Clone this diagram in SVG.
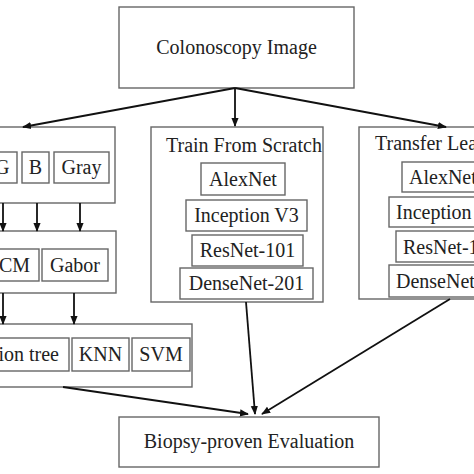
<svg xmlns="http://www.w3.org/2000/svg" width="474" height="474" viewBox="0 0 474 474">
<defs>
<marker id="ah" viewBox="0 0 10 10" refX="9" refY="5" markerWidth="5" markerHeight="5" orient="auto" markerUnits="strokeWidth">
<path d="M0,1 L10,5 L0,9 z" fill="#111"/>
</marker>
<style>
rect{fill:#fff;stroke:#666;stroke-width:1.4}
text{font-family:"Liberation Serif","Times New Roman",serif;font-size:20px;fill:#222}
.c{text-anchor:middle}
.e{text-anchor:end}
#connectors line{stroke:#111;stroke-width:1.8;marker-end:url(#ah)}
</style>
</defs>
<rect x="0" y="0" width="474" height="474" style="fill:#fff;stroke:none"/>
<g id="colonoscopy"><rect x="119" y="7" width="235" height="81"/><text x="236.5" y="54" class="c">Colonoscopy Image</text></g>
<g id="color-channels"><rect x="-10" y="127" width="125" height="76"/>
<rect x="-12" y="152" width="29" height="31"/><text x="9.5" y="174" class="e">G</text>
<rect x="22" y="152" width="27" height="31"/><text x="35.5" y="174" class="c">B</text>
<rect x="54" y="152" width="55" height="31"/><text x="81.5" y="174" class="c">Gray</text></g>
<g id="features"><rect x="-10" y="231" width="126" height="62"/>
<rect x="-12" y="249" width="51" height="32"/><text x="30" y="272" class="e">CM</text>
<rect x="42" y="249" width="66" height="32"/><text x="75" y="272" class="c">Gabor</text></g>
<g id="classifiers"><rect x="-10" y="324" width="202" height="63"/>
<rect x="-12" y="338" width="81" height="33"/><text x="59" y="361" class="e">ion tree</text>
<rect x="72" y="338" width="57" height="33"/><text x="100.5" y="361" class="c">KNN</text>
<rect x="132" y="338" width="58" height="33"/><text x="161" y="361" class="c">SVM</text></g>
<g id="train-scratch"><rect x="151" y="127" width="172" height="175"/>
<text x="166" y="152">Train From Scratch</text>
<rect x="201" y="163" width="84" height="32"/><text x="243" y="186" class="c">AlexNet</text>
<rect x="186" y="200" width="121" height="31"/><text x="246.5" y="222" class="c">Inception V3</text>
<rect x="192" y="235" width="111" height="31"/><text x="247.5" y="257" class="c">ResNet-101</text>
<rect x="180" y="268" width="133" height="31"/><text x="246.5" y="290" class="c">DenseNet-201</text></g>
<g id="transfer-learning"><rect x="359" y="127" width="130" height="172"/>
<text x="375" y="150">Transfer Lea</text>
<rect x="402" y="162" width="90" height="30"/><text x="409" y="184">AlexNet</text>
<rect x="389" y="197" width="100" height="30"/><text x="396" y="219">Inception</text>
<rect x="396" y="231" width="100" height="31"/><text x="403" y="254">ResNet-1</text>
<rect x="389" y="265" width="100" height="32"/><text x="396" y="288">DenseNet</text></g>
<g id="evaluation"><rect x="119" y="417" width="260" height="50"/><text x="249" y="448" class="c">Biopsy-proven Evaluation</text></g>
<g id="connectors">
<line x1="235" y1="88" x2="23" y2="127"/>
<line x1="235" y1="88" x2="235" y2="126"/>
<line x1="235" y1="88" x2="446" y2="127"/>
<line x1="3" y1="203" x2="3" y2="231"/>
<line x1="37" y1="203" x2="37" y2="231"/>
<line x1="80" y1="203" x2="80" y2="231"/>
<line x1="3" y1="293" x2="3" y2="324"/>
<line x1="74" y1="293" x2="74" y2="324"/>
<line x1="63" y1="387" x2="248" y2="414"/>
<line x1="246" y1="302" x2="255" y2="414"/>
<line x1="450" y1="299" x2="262" y2="414"/>
</g>
</svg>
